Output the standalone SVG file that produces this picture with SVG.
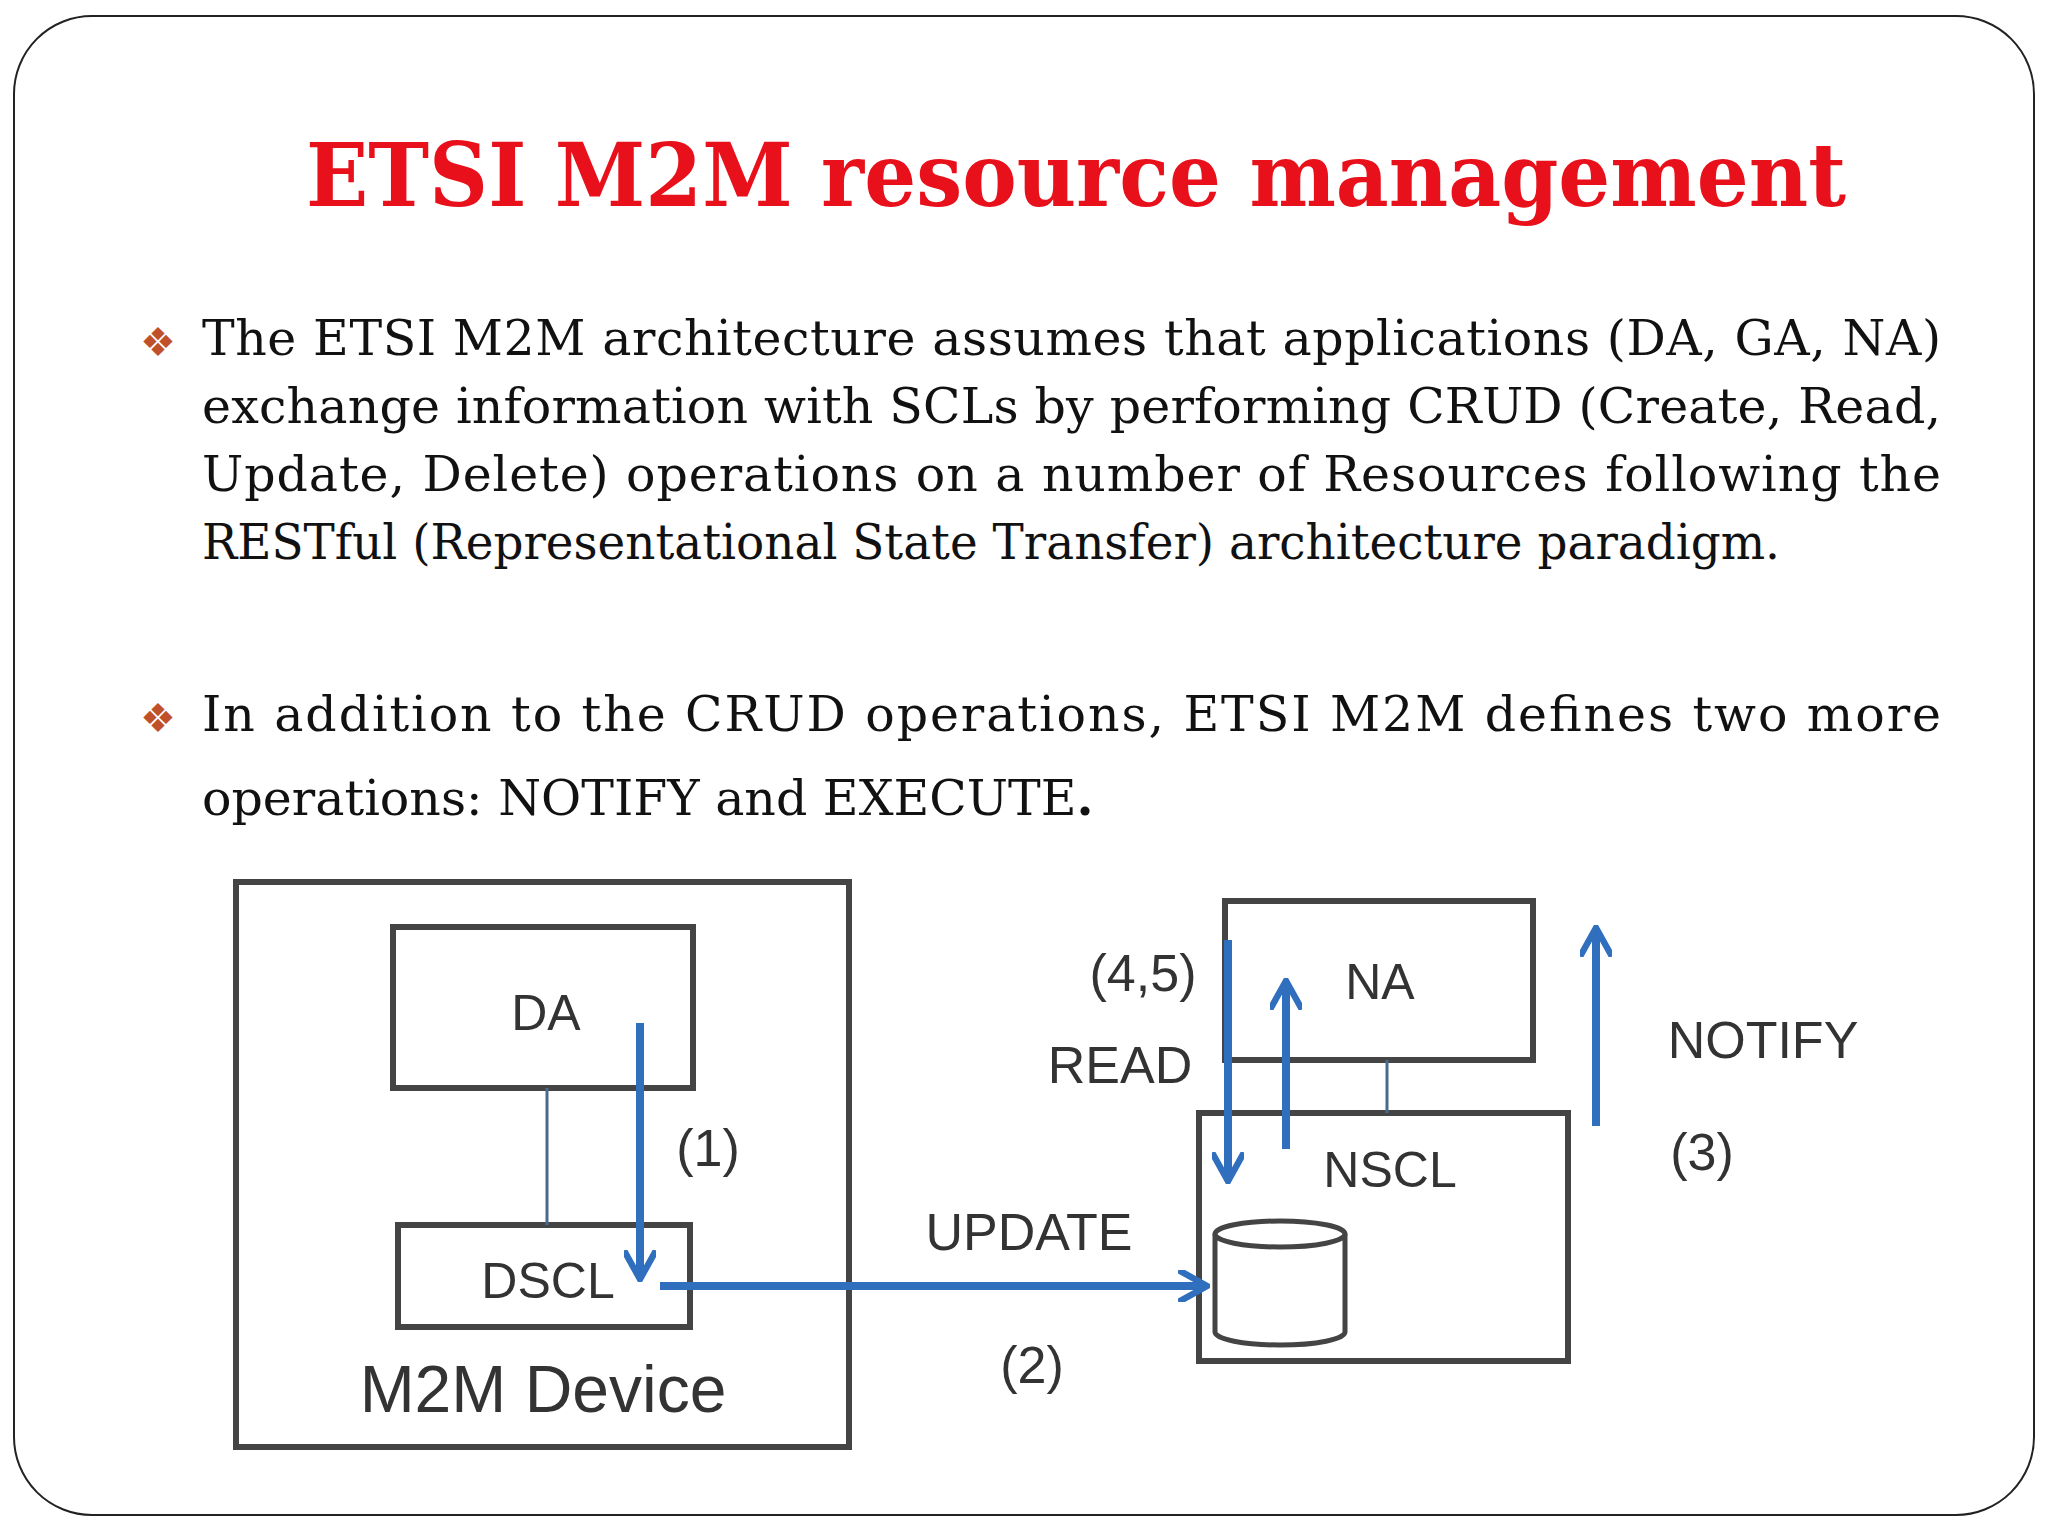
<svg xmlns="http://www.w3.org/2000/svg" width="2048" height="1536" viewBox="0 0 2048 1536">
<style>
.b{font-family:"DejaVu Serif",serif;font-size:49px;fill:#111}
.d{font-family:"Liberation Sans",Arial,sans-serif;fill:#333;text-anchor:middle}
.box{fill:#fff;stroke:#444;stroke-width:6}
.ln{stroke:#4a6a8a;stroke-width:3}
.ar{stroke:#2f6fbe;stroke-width:8;fill:none;marker-end:url(#ah)}
</style>
<defs><marker id="ah" viewBox="0 0 10 10" refX="8" refY="5" markerWidth="4" markerHeight="4" orient="auto" markerUnits="strokeWidth"><path d="M0,0 L9,5 L0,10" fill="none" stroke="#2f6fbe" stroke-width="2"/></marker></defs>
<rect width="2048" height="1536" fill="#fff"/>
<rect x="14" y="16" width="2020" height="1499" rx="78" fill="#fff" stroke="#222" stroke-width="2"/>
<text x="1076" y="206" text-anchor="middle" font-family="DejaVu Serif,serif" font-weight="bold" font-size="88" fill="#e8101a" textLength="1540" lengthAdjust="spacingAndGlyphs">ETSI M2M resource management</text>
<g id="bullets">
<text x="140" y="356" font-size="40" fill="#c0502a" font-family="DejaVu Sans,sans-serif">❖</text>
<text x="140" y="732" font-size="40" fill="#c0502a" font-family="DejaVu Sans,sans-serif">❖</text>
<text class="b" x="202" y="355" textLength="1739" lengthAdjust="spacing">The ETSI M2M architecture assumes that applications (DA, GA, NA)</text>
<text class="b" x="202" y="423" textLength="1739" lengthAdjust="spacing">exchange information with SCLs by performing CRUD (Create, Read,</text>
<text class="b" x="202" y="491" textLength="1739" lengthAdjust="spacing">Update, Delete) operations on a number of Resources following the</text>
<text class="b" x="202" y="559" textLength="1578" lengthAdjust="spacingAndGlyphs">RESTful (Representational State Transfer) architecture paradigm.</text>
<text class="b" x="202" y="731" textLength="1739" lengthAdjust="spacing">In addition to the CRUD operations, ETSI M2M defines two more</text>
<text class="b" x="202" y="815">operations: NOTIFY and EXECUTE<tspan font-weight="bold">.</tspan></text>
</g>
<g id="device"><rect class="box" x="236" y="882" width="613" height="565"/><text class="d" x="543" y="1412" font-size="66">M2M Device</text></g>
<g id="da"><rect class="box" x="393" y="927" width="300" height="161"/><text class="d" x="546" y="1030" font-size="50">DA</text></g>
<g id="dscl"><rect class="box" x="398" y="1225" width="292" height="102"/><text class="d" x="548" y="1298" font-size="50">DSCL</text></g>
<g id="na"><rect class="box" x="1225" y="901" width="308" height="159"/><text class="d" x="1380" y="999" font-size="50">NA</text></g>
<g id="nscl"><rect class="box" x="1199" y="1113" width="369" height="248"/><text class="d" x="1390" y="1187" font-size="50">NSCL</text>
<path d="M1215,1234 V1332 A65,13 0 0 0 1345,1332 V1234" fill="#fff" stroke="#444" stroke-width="5"/><ellipse cx="1280" cy="1234" rx="65" ry="13" fill="#fff" stroke="#444" stroke-width="5"/></g>
<g id="connectors">
<line class="ln" x1="547" y1="1088" x2="547" y2="1225"/>
<line class="ln" x1="1387" y1="1060" x2="1387" y2="1113"/>
<path class="ar" d="M640,1023 V1276"/>
<path class="ar" d="M660,1286 H1204"/>
<path class="ar" d="M1228,940 V1178"/>
<path class="ar" d="M1286,1149 V984"/>
<path class="ar" d="M1596,1126 V931"/>
</g>
<g id="labels">
<text class="d" x="708" y="1166" font-size="52">(1)</text>
<text class="d" x="1029" y="1250" font-size="52">UPDATE</text>
<text class="d" x="1032" y="1383" font-size="52">(2)</text>
<text class="d" x="1143" y="991" font-size="52">(4,5)</text>
<text class="d" x="1120" y="1083" font-size="52">READ</text>
<text class="d" x="1763" y="1058" font-size="52">NOTIFY</text>
<text class="d" x="1702" y="1170" font-size="52">(3)</text>
</g>
</svg>
